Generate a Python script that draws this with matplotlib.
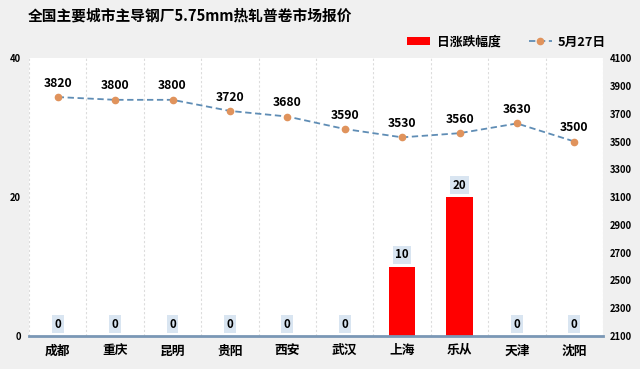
import numpy as np
import matplotlib.pyplot as plt

plt.rcParams['font.family'] = ['Noto Sans CJK SC', 'DejaVu Sans']

cities = ['成都', '重庆', '昆明', '贵阳', '西安', '武汉', '上海', '乐从', '天津', '沈阳']
change = [0, 0, 0, 0, 0, 0, 10, 20, 0, 0]
price = [3820, 3800, 3800, 3720, 3680, 3590, 3530, 3560, 3630, 3500]
left_ticks = [0, 20, 40]
right_ticks = list(range(2100, 4101, 200))

fig = plt.figure(figsize=(6.4, 3.69), dpi=100)
fig.patch.set_facecolor('#f0f0f0')
ax = fig.add_axes([0.0453, 0.0894, 0.897, 0.753])
ax.set_facecolor('white')

x = np.arange(len(cities))
bars = ax.bar(x, change, width=0.46, color='#ff0000', label='日涨跌幅度', zorder=3)
ax.set_xlim(-0.5, len(cities) - 0.5)
ax.set_ylim(0, 40)
ax.set_yticks(left_ticks)
ax.set_xticks(x)
ax.set_xticklabels(cities, fontsize=9.2, fontweight='bold')
for lbl in ax.get_yticklabels():
    lbl.set_fontsize(6.8)
    lbl.set_fontweight('bold')
ax.tick_params(axis='both', length=0)
ax.tick_params(axis='x', pad=6)
ax.tick_params(axis='y', pad=6)

# dashed separators between categories
for b in np.arange(-0.5, len(cities) + 0.5, 1.0):
    ax.axvline(b, color='#dcdcdc', lw=0.8, ls=(0, (2, 2)), zorder=1)

for s in ['top', 'right', 'left']:
    ax.spines[s].set_visible(False)
ax.spines['bottom'].set_color('#7a97b5')
ax.spines['bottom'].set_linewidth(2)
ax.spines['bottom'].set_zorder(4)

for xi, v in zip(x, change):
    ax.annotate(str(v), (xi, v), xytext=(0, 8.5), textcoords='offset points',
                ha='center', va='center', fontsize=8.3, fontweight='bold',
                bbox=dict(boxstyle='square,pad=0.22', fc='#d9e5f1', ec='none'),
                zorder=5)

ax2 = ax.twinx()
ax2.set_ylim(2100, 4100)
ax2.set_yticks(right_ticks)
for lbl in ax2.get_yticklabels():
    lbl.set_fontsize(6.8)
    lbl.set_fontweight('bold')
ax2.tick_params(axis='y', length=0, pad=5)
for s in ax2.spines.values():
    s.set_visible(False)
ax2.plot(x, price, ls=(0, (3.5, 2)), color='#5f8db5', lw=1.3,
         marker='o', markersize=4.5, markerfacecolor='#e0935c',
         markeredgecolor='#e0935c', label='5月27日', zorder=4)
for xi, v in zip(x, price):
    ax2.annotate(str(v), (xi, v), xytext=(0, 10), textcoords='offset points',
                 ha='center', va='center', fontsize=8.8, fontweight='bold')

fig.text(0.044, 0.957, '全国主要城市主导钢厂5.75mm热轧普卷市场报价',
         fontsize=10.6, fontweight='bold', va='center', ha='left')

h1, l1 = ax.get_legend_handles_labels()
h2, l2 = ax2.get_legend_handles_labels()
leg = fig.legend(h1 + h2, l1 + l2, loc='center right', bbox_to_anchor=(0.965, 0.886),
                 ncol=2, frameon=False, fontsize=9.2, handlelength=1.8,
                 handleheight=0.55, columnspacing=2.2, handletextpad=0.5)
for t in leg.get_texts():
    t.set_fontweight('bold')

fig.savefig('out.png', dpi=100, facecolor=fig.get_facecolor())
